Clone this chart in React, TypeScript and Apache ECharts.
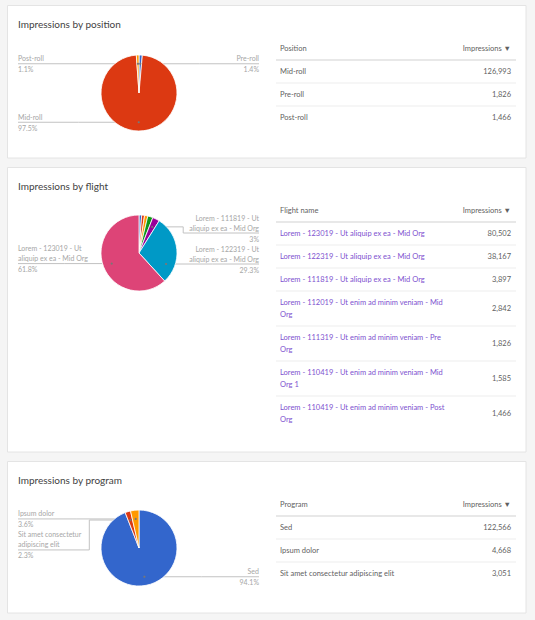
import React, { useEffect, useRef } from "react";
import * as echarts from "echarts";

// ---------- data ----------
const positionNames = ["Pre-roll", "Mid-roll", "Post-roll"];
const positionValues = [1826, 126993, 1466];

const flightNames = [
  "Lorem - 110419 - Ut enim ad minim veniam - Post Org",
  "Lorem - 110419 - Ut enim ad minim veniam - Mid Org 1",
  "Lorem - 111319 - Ut enim ad minim veniam - Pre Org",
  "Lorem - 112019 - Ut enim ad minim veniam - Mid Org",
  "Lorem - 111819 - Ut aliquip ex ea - Mid Org",
  "Lorem - 122319 - Ut aliquip ex ea - Mid Org",
  "Lorem - 123019 - Ut aliquip ex ea - Mid Org",
];
const flightValues = [1466, 1585, 1826, 2842, 3897, 38167, 80502];

const programNames = ["Sed", "Sit amet consectetur adipiscing elit", "Ipsum dolor"];
const programValues = [122566, 3051, 4668];

const panelTitles = ["Impressions by position", "Impressions by flight", "Impressions by program"];
const tableHeaders = ["Position", "Flight name", "Program"];
const valueHeader = "Impressions \u25BC";

const palette = ["#3366cc", "#dc3912", "#ff9900", "#109618", "#990099", "#0099c6", "#dd4477"];

// ---------- layout ----------
const FONT = "Lato, 'Noto Sans', sans-serif";
const PANEL_X = 7.5;
const PANEL_W = 518.5;
const panels = [
  { y: 5.5, h: 152.5, cy: 93, minPct: 0 },
  { y: 167.5, h: 284.5, cy: 253, minPct: 2.5 },
  { y: 461.5, h: 151.5, cy: 548, minPct: 0 },
];
const PIE_CX = 139;
const R = 38;
const LABEL_LEFT = 18;
const LABEL_RIGHT = 259;
const NAME_LH = 10;
const PCT_BELOW = 11;
const TABLE_L = 276;
const TABLE_R = 516;
const TABLE_FS = 7.5;
const TABLE_COLOR = "#5f5f5f";

function wrap(text: string, max: number): string[] {
  const words = text.split(" ");
  const lines: string[] = [];
  let cur = "";
  for (const w of words) {
    const t = cur ? cur + " " + w : w;
    if (t.length > max && cur) {
      lines.push(cur);
      cur = w;
    } else cur = t;
  }
  if (cur) lines.push(cur);
  return lines;
}

function fmtPct(v: number, total: number) {
  return Math.round((v / total) * 1000) / 10 + "%";
}

type LabelItem = {
  side: number;
  mx: number;
  my: number;
  lineY: number;
  n: number;
  straight: boolean;
  dx: number;
};

function computeLabels(names: string[], values: number[], cy: number, minPct: number) {
  const total = values.reduce((a, b) => a + b, 0);
  const rho = 0.77 * R;
  let acc = 0;
  const res: Record<number, LabelItem> = {};
  const items: any[] = [];
  values.forEach((v, i) => {
    const a0 = (acc / total) * 360;
    acc += v;
    const a1 = (acc / total) * 360;
    const pct = (v / total) * 100;
    if (pct < minPct) return;
    const m = (((a0 + a1) / 2) * Math.PI) / 180;
    const dx = rho * Math.sin(m);
    const dy = -rho * Math.cos(m);
    items.push({ i, a0, a1, side: dx < 0 ? -1 : 1, mx: PIE_CX + dx, my: cy + dy, n: wrap(names[i], 23).length });
  });
  for (const side of [-1, 1]) {
    const s = items.filter((it) => it.side === side).sort((a, b) => a.my - b.my);
    let prev = -Infinity;
    for (const it of s) {
      const y = Math.max(it.my, cy - R - 2 + it.n * NAME_LH, prev + PCT_BELOW + it.n * NAME_LH);
      it.lineY = y;
      prev = y;
    }
  }
  for (const it of items) {
    let straight = false;
    let dxp = it.mx;
    if (Math.abs(it.lineY - it.my) < 0.5) {
      straight = true;
    } else {
      const dyy = it.lineY - cy;
      if (Math.abs(dyy) < rho) {
        const x = PIE_CX + it.side * Math.sqrt(rho * rho - dyy * dyy);
        let th = (Math.atan2(x - PIE_CX, -dyy) * 180) / Math.PI;
        if (th < 0) th += 360;
        if (th > it.a0 + 2 && th < it.a1 - 2) {
          straight = true;
          dxp = x;
        }
      }
    }
    res[it.i] = { side: it.side, mx: it.mx, my: it.my, lineY: it.lineY, n: it.n, straight, dx: dxp };
  }
  return res;
}

const pieDefs = [
  { names: positionNames, values: positionValues },
  { names: flightNames, values: flightValues },
  { names: programNames, values: programValues },
];

function txt(x: number, y: number, text: string, fill: string, fontSize: number, align: string, extra: any = {}) {
  return {
    type: "text",
    z: 1,
    x,
    y,
    style: {
      text,
      fill,
      fontSize,
      fontFamily: FONT,
      align,
      verticalAlign: "middle",
      textAlign: align,
      textVerticalAlign: "middle",
      ...extra,
    },
  };
}

function buildOption() {
  const labelInfo = pieDefs.map((d, k) => computeLabels(d.names, d.values, panels[k].cy, panels[k].minPct));

  const series = pieDefs.map((d, k) => {
    const total = d.values.reduce((a, b) => a + b, 0);
    return {
      type: "pie",
      silent: true,
      center: [PIE_CX, panels[k].cy],
      radius: R,
      startAngle: 90,
      clockwise: true,
      avoidLabelOverlap: false,
      itemStyle: { borderColor: "#ffffff", borderWidth: 0.8 },
      label: {
        show: true,
        fontFamily: FONT,
        formatter: (p: any) =>
          wrap(p.name, 23).map((l) => `{n|${l}}`).join("\n") + `\n{p|${fmtPct(p.value, total)}}`,
        rich: {
          n: { fontSize: 7, lineHeight: NAME_LH, color: "#a6a6a6", fontFamily: FONT },
          p: { fontSize: 7, lineHeight: 12, color: "#a6a6a6", fontFamily: FONT },
        },
      },
      labelLine: { show: true, smooth: false, length: 4, length2: 4, lineStyle: { color: "#c2c2c2", width: 1 } },
      labelLayout: (params: any) => {
        const it = labelInfo[k][params.dataIndex];
        if (!it) return {};
        const w = params.labelRect ? params.labelRect.width : 60;
        const edgeX = it.side < 0 ? LABEL_LEFT : LABEL_RIGHT;
        let pts: number[][];
        if (it.straight) {
          pts = [
            [it.dx, it.lineY],
            [(it.dx + edgeX) / 2, it.lineY],
            [edgeX, it.lineY],
          ];
        } else {
          const ex = it.side < 0 ? LABEL_LEFT + w + 8 : LABEL_RIGHT - w - 6;
          pts = [
            [it.mx, it.my],
            [ex, it.my],
            [ex, it.lineY],
            [edgeX, it.lineY],
          ];
        }
        return {
          x: edgeX,
          y: it.lineY - it.n * NAME_LH - 0.5,
          align: it.side < 0 ? "left" : "right",
          verticalAlign: "top",
          labelLinePoints: pts,
        };
      },
      data: d.names.map((n, i) => {
        const show = (d.values[i] / total) * 100 >= panels[k].minPct;
        return {
          name: n,
          value: d.values[i],
          itemStyle: { color: palette[i] },
          label: { show },
          labelLine: { show },
        };
      }),
    };
  });

  const graphic: any[] = [];
  panels.forEach((p, k) => {
    graphic.push({
      type: "rect",
      z: 0,
      shape: { x: PANEL_X, y: p.y, width: PANEL_W, height: p.h },
      style: { fill: "#ffffff", stroke: "#e4e4e4", lineWidth: 1 },
    });
    graphic.push(txt(18, p.y + 18.5, panelTitles[k], "#424242", 10, "left"));
    // table
    const headerLineY = p.y + 54.5;
    graphic.push(txt(280, headerLineY - 12, tableHeaders[k], TABLE_COLOR, TABLE_FS, "left"));
    graphic.push(txt(511, headerLineY - 12, valueHeader, TABLE_COLOR, TABLE_FS, "right"));
    graphic.push({
      type: "line",
      z: 1,
      shape: { x1: TABLE_L, y1: headerLineY, x2: TABLE_R, y2: headerLineY },
      style: { stroke: "#e0e0e0", lineWidth: 1.5 },
    });
    const d = pieDefs[k];
    const order = d.values.map((_, i) => i).sort((a, b) => d.values[b] - d.values[a]);
    let top = headerLineY;
    order.forEach((i, r) => {
      const lines = wrap(d.names[i], 47);
      const h = lines.length > 1 ? 35 : 23;
      const cyRow = top + h / 2;
      graphic.push(
        txt(280, cyRow, lines.join("\n"), k === 1 ? "#7e52cf" : TABLE_COLOR, TABLE_FS, "left", { lineHeight: 11.5 })
      );
      graphic.push(txt(511, cyRow, d.values[i].toLocaleString("en-US"), TABLE_COLOR, TABLE_FS, "right"));
      top += h;
      if (r < order.length - 1) {
        graphic.push({
          type: "line",
          z: 1,
          shape: { x1: TABLE_L, y1: top, x2: TABLE_R, y2: top },
          style: { stroke: "#ededed", lineWidth: 1 },
        });
      }
    });
    // label-line dots
    Object.values(labelInfo[k]).forEach((it) => {
      graphic.push({
        type: "circle",
        z: 100,
        shape: { cx: it.straight ? it.dx : it.mx, cy: it.straight ? it.lineY : it.my, r: 1.1 },
        style: { fill: "#777777" },
      });
    });
  });

  return {
    animation: false,
    backgroundColor: "#f5f5f5",
    textStyle: { fontFamily: FONT },
    graphic: { elements: graphic },
    series,
  };
}

export default function App() {
  const ref = useRef<HTMLDivElement>(null);
  useEffect(() => {
    document.body.style.margin = "0";
    if (!ref.current) return;
    const chart = echarts.init(ref.current, undefined, { renderer: "svg" });
    chart.setOption(buildOption() as any);
    return () => chart.dispose();
  }, []);
  return <div ref={ref} style={{ width: 535, height: 620 }} />;
}
